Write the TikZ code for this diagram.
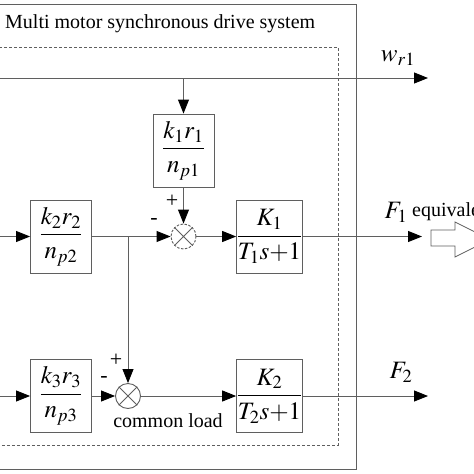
\documentclass[tikz,border=0pt]{standalone}
\usepackage{amsmath}
\usepackage{mathptmx}
\usepackage{fontspec}
\setmainfont{Liberation Serif}
\usetikzlibrary{arrows.meta}
\definecolor{lc}{RGB}{95,95,95}
\tikzset{
  blk/.style={draw=lc, line width=0.9pt, minimum width=61pt, minimum height=73pt, inner sep=0pt, font=\fontsize{25}{30}\selectfont},
  sumc/.style={circle, draw=lc, line width=0.9pt, minimum size=25pt, inner sep=0pt},
  conn/.style={draw=lc, line width=0.9pt},
  arr/.style={conn, -{Triangle[length=14pt,width=11pt,color=black]}},
  lbl/.style={font=\fontsize{20}{24}\selectfont, inner sep=0pt},
  mlbl/.style={font=\fontsize{25}{30}\selectfont, inner sep=0pt},
  sgn/.style={font=\fontsize{22}{24}\selectfont, inner sep=0pt},
}
\begin{document}
\begin{tikzpicture}[x=1pt,y=-1pt]
\useasboundingbox (0,0) rectangle (474,474);
\clip (0,0) rectangle (474,474);
\fill[white] (0,0) rectangle (474,474);
% frames
\draw[conn] (-5,4) rectangle (356,469);
\draw[conn, line width=0.7pt, dash pattern=on 3pt off 2pt] (-5,47) rectangle (338,445);
\node[lbl, anchor=west] (title) at (5,24) {Multi motor synchronous drive system};
% blocks
\node[blk] (b1) at (183.5,150.5) {$\dfrac{k_1r_1}{n_{p1}}$};
\node[blk] (b2) at (61,236.5) {$\dfrac{k_2r_2}{n_{p2}}$};
\node[blk] (b3) at (61,396) {$\dfrac{k_3r_3}{n_{p3}}$};
\node[blk] (k1) at (269.5,236.5) {$\dfrac{K_1}{T_1s{+}1}$};
\node[blk] (k2) at (269.5,396) {$\dfrac{K_2}{T_2s{+}1}$};
\node[sumc, dash pattern=on 2.5pt off 1.5pt] (s1) at (183.5,236.5) {};
\node[sumc] (s2) at (128,396) {};
\draw[conn] (s1.north west) -- (s1.south east) (s1.north east) -- (s1.south west);
\draw[conn] (s2.north west) -- (s2.south east) (s2.north east) -- (s2.south west);
% coordinates
\coordinate (wl) at (-5,78);
\coordinate (wr) at (428,78);
\coordinate (wb) at (183.5,78);
\coordinate (in2) at (-5,236.5);
\coordinate (in3) at (-5,396);
\coordinate (j1) at (128,236.5);
\coordinate (f1) at (422,236.5);
\coordinate (f2) at (428,396);
% connectors
\draw[arr] (wl) -- (wr);
\draw[arr] (wb) -- (b1.north);
\draw[arr] (b1.south) -- (s1.north);
\draw[arr] (in2) -- (b2.west);
\draw[arr] (b2.east) -- (s1.west);
\draw[arr] (j1) -- (s2.north);
\draw[arr] (s1.east) -- (k1.west);
\draw[arr] (k1.east) -- (f1);
\draw[arr] (in3) -- (b3.west);
\draw[arr] (b3.east) -- (s2.west);
\draw[arr] (s2.east) -- (k2.west);
\draw[arr] (k2.east) -- (f2);
% labels
\node[mlbl] (lw) at (398,58) {$w_{r1}$};
\node[mlbl] (lf1) at (396,212) {$F_1$};
\node[lbl, anchor=west] (leq) at (412,212) {equivale};
\node[mlbl] (lf2) at (401,372) {$F_2$};
\node[lbl] (lcl) at (168,421) {common load};
\node[sgn] (m1) at (154,221) {-};
\node[sgn] (p1) at (172,201) {+};
\node[sgn] (p2) at (116,360) {+};
\node[sgn] (m2) at (104,379) {-};
% hollow arrow
\draw[line width=0.8pt, draw=lc, fill=white] (431,230) -- (455,230) -- (455,222) -- (490,239.5) -- (455,257) -- (455,246) -- (431,246) -- cycle;
\end{tikzpicture}
\end{document}
